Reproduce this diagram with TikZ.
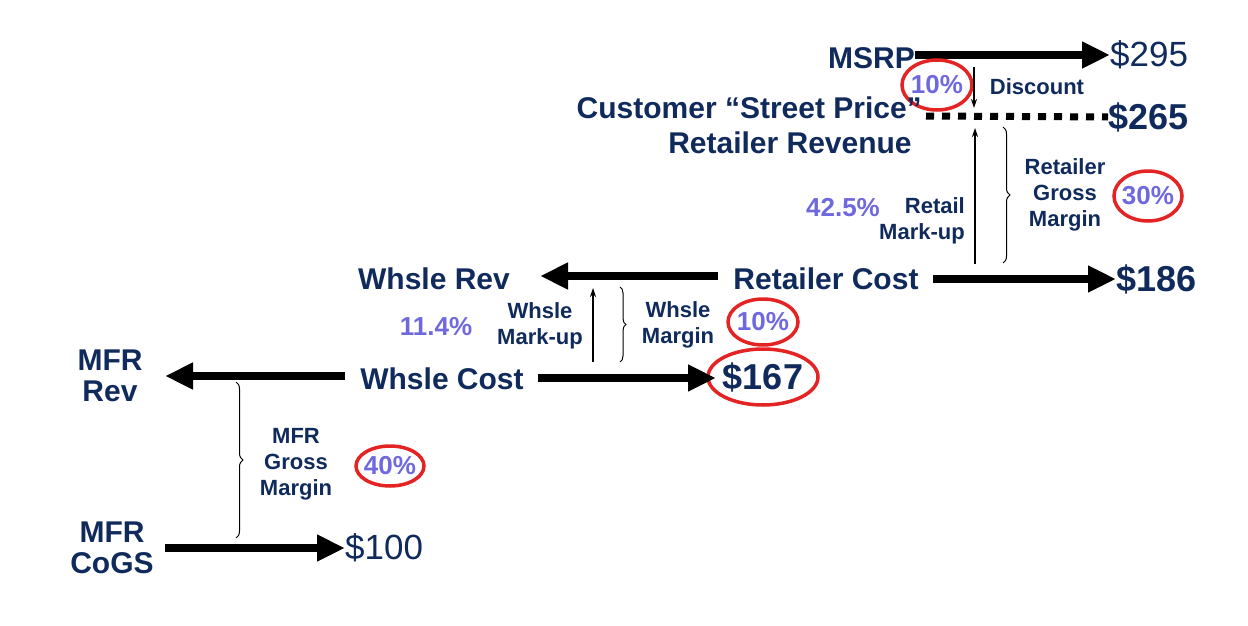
\documentclass[tikz,border=0pt]{standalone}
\usepackage{fontspec}
\setmainfont{Liberation Sans}
\usetikzlibrary{arrows.meta,decorations.pathreplacing}
\definecolor{navy}{RGB}{16,42,92}
\definecolor{pct}{RGB}{112,104,222}
\definecolor{ring}{RGB}{228,36,36}

\begin{document}
\begin{tikzpicture}[
		x=1pt, y=-1pt,
		label/.style={text=navy, font=\fontsize{30}{31}\selectfont\bfseries, inner sep=0pt, align=center},
		small/.style={text=navy, font=\fontsize{22}{26}\selectfont\bfseries, inner sep=0pt, align=center},
		price/.style={text=navy, font=\fontsize{36}{38}\selectfont\bfseries, inner sep=0pt},
		plain/.style={text=navy, font=\fontsize{35}{38}\selectfont, inner sep=0pt},
		percent/.style={text=pct, font=\fontsize{26}{28}\selectfont\bfseries, inner sep=0pt},
		ring/.style={draw=ring, line width=3.5pt},
		flow/.style={line width=7.5pt, -{Triangle[length=28pt,width=25pt]}},
		thin/.style={line width=1.3pt, -{Stealth[length=9pt,width=6pt]}},
		brace/.style={decorate, decoration={brace, amplitude=7pt}, line width=1pt}
	]
	\useasboundingbox (0,0) rectangle (1248,626);

	% retailer level
	\node[label, anchor=east] (msrp) at (915,58) {MSRP};
	\node[plain, anchor=west] (p295) at (1110,55) {\$295};
	\draw[flow] (msrp.east |- p295.west) -- (p295.west);
	\node[percent] (disc) at (937,85) {10\%};
	\draw[ring] (937,85) ellipse (35pt and 25pt);
	\node[small] (discount) at (1037,87) {Discount};
	\node[label, anchor=east] (street) at (922,108) {Customer “Street Price”};
	\node[price, anchor=west] (p265) at (1108,117) {\$265};
	\draw[line width=7pt, dash pattern=on 8pt off 8pt] (926,116) -- (p265.west);
	\coordinate (dtop) at (974,67);
	\coordinate (dbot) at (974,108);
	\draw[thin] (dtop) -- (dbot);
	\node[label] (retrev) at (790,143) {Retailer Revenue};
	\coordinate (mtop) at (975,128);
	\coordinate (mbot) at (975,264);
	\draw[thin] (mbot) -- (mtop);
	\coordinate (btop) at (1003,127);
	\coordinate (bbot) at (1003,263);
	\draw[brace] (btop) -- (bbot);
	\node[small] (retgm) at (1065,195) {Retailer\\Gross\\Margin};
	\node[percent] (rgm) at (1148,196) {30\%};
	\draw[ring] (1148,196) ellipse (34pt and 25pt);
	\node[percent] (rmu) at (843,208) {42.5\%};
	\node[small, align=right, anchor=east] (retmu) at (965,221) {Retail\\Mark-up};

	% wholesale level
	\node[label] (retcost) at (826,279) {Retailer Cost};
	\node[price, anchor=west] (p186) at (1116,279) {\$186};
	\draw[flow] (933,279) -- (p186.west);
	\node[label] (whrev) at (434,279) {Whsle Rev};
	\draw[flow] (718,276) -- (540,276);
	\node[percent] (wmu) at (436,327) {11.4\%};
	\node[small] (whmu) at (540,326) {Whsle\\Mark-up};
	\coordinate (wtop) at (593,288);
	\coordinate (wbot) at (593,362);
	\draw[thin] (wbot) -- (wtop);
	\coordinate (vtop) at (620,287);
	\coordinate (vbot) at (620,362);
	\draw[brace, decoration={amplitude=6pt}] (vtop) -- (vbot);
	\node[small] (whm) at (678,325) {Whsle\\Margin};
	\node[percent] (wm) at (763,322) {10\%};
	\draw[ring] (763,322) ellipse (35pt and 23pt);
	\node[price] (p167) at (763,377) {\$167};
	\draw[ring] (763,377) ellipse (55pt and 28pt);
	\node[label] (whcost) at (442,379) {Whsle Cost};
	\draw[flow] (538,378) -- (716,378);

	% manufacturer level
	\node[label] (mfrrev) at (110,376) {MFR\\Rev};
	\draw[flow] (345,376) -- (165,376);
	\coordinate (gtop) at (236,382);
	\coordinate (gbot) at (236,538);
	\draw[brace] (gtop) -- (gbot);
	\node[small] (mfrgm) at (296,464) {MFR\\Gross\\Margin};
	\node[percent] (mgm) at (390,466) {40\%};
	\draw[ring] (390,466) ellipse (34pt and 20pt);
	\node[label] (cogs) at (112,548) {MFR\\CoGS};
	\node[plain, anchor=west] (p100) at (345,548) {\$100};
	\draw[flow] (165,548) -- (p100.west);
\end{tikzpicture}
\end{document}
